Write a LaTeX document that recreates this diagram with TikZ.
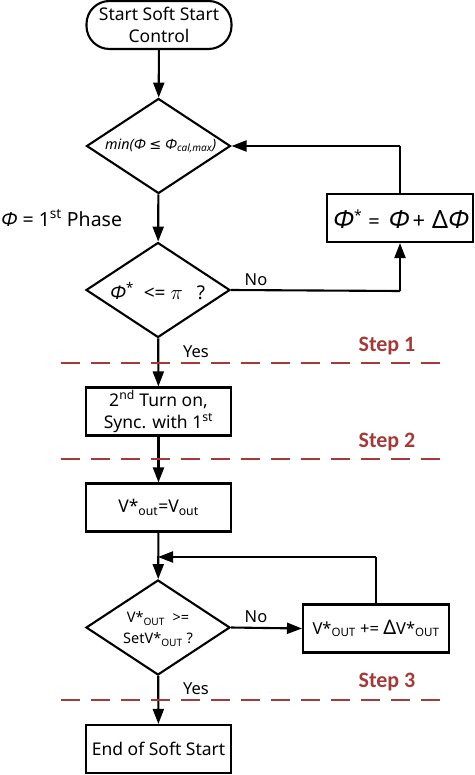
\documentclass[tikz,border=0pt]{standalone}
\usepackage{fontspec}
\setmainfont{Noto Sans}
\newfontfamily\stepfont{Carlito}
\newfontfamily\symfont{DejaVu Sans}
\usetikzlibrary{shapes.geometric,arrows.meta}
\definecolor{stepred}{RGB}{163,58,58}
\begin{document}
\begin{tikzpicture}[x=1pt,y=-1pt,
  box/.style={draw,line width=2.1pt,minimum width=145pt,minimum height=48pt,inner sep=1pt,align=center,font=\fontsize{17.5}{22}\selectfont},
  term/.style={box,rounded corners=23pt},
  dec/.style={draw,diamond,line width=2.1pt,minimum width=144pt,minimum height=95pt,inner sep=0pt,shape aspect=1.5},
  dtext/.style={inner sep=0pt,align=center},
  arr/.style={line width=2.1pt,-{Triangle[length=15pt,width=11pt]}},
  ln/.style={line width=2.1pt},
  sep/.style={stepred,line width=2.2pt,dash pattern=on 19pt off 11pt},
  steplbl/.style={text=stepred,font=\stepfont\bfseries\fontsize{22}{24}\selectfont},
  lbl/.style={font=\fontsize{16.5}{20}\selectfont}]
\useasboundingbox (0,0) rectangle (474,775);
% nodes
\node[term] (start) at (159,25) {Start Soft Start\\Control};
\node[dec] (d1) at (158.5,146) {};
\node[dtext,anchor=west,font=\fontsize{14.3}{18}\selectfont] (d1t) at (105,146) {\itshape min(Φ {\symfont\upshape ≤} Φ\textsubscript{cal,max})};
\node[draw,line width=2.1pt,minimum width=146pt,minimum height=48pt] (phi) at (400,218) {};
\node[inner sep=0pt,anchor=west,font=\fontsize{20}{24}\selectfont] (phit) at (333,219) {{\fontsize{25}{26}\selectfont\textit{Φ}}\textsuperscript{*}\hspace{6pt}=\hspace{9pt}{\fontsize{25}{26}\selectfont\textit{Φ}}\hspace{3pt}{\fontsize{22}{24}\selectfont +}\hspace{7pt}{\fontsize{25}{26}\selectfont Δ\textit{Φ}}};
\node[anchor=west,font=\fontsize{19.5}{22}\selectfont,inner sep=0pt] (phase) at (1,218) {\textit{Φ} = 1\textsuperscript{st} Phase};
\node[dec] (d2) at (158,290) {};
\node[dtext,anchor=west,font=\fontsize{19}{22}\selectfont] (d2t) at (110,291) {\textit{Φ}\textsuperscript{*}\hspace{10pt}<=\hspace{5pt}{\fontsize{22}{22}\selectfont$\pi$}\hspace{14pt}?};
\node[box] (b2) at (158.5,411.5) {2\textsuperscript{nd} Turn on,\\Sync. with 1\textsuperscript{st}};
\node[box] (b3) at (158.5,507.5) {V*\textsubscript{out}=V\textsubscript{out}};
\node[dec] (d3) at (158,627.5) {};
\node[dtext,font=\fontsize{14.5}{21}\selectfont] (d3t) at (158,629) {V*\textsubscript{OUT} \ >=\\SetV*\textsubscript{OUT} ?};
\node[box,minimum width=146pt,font=\fontsize{16.5}{20}\selectfont] (b4) at (376,628.5) {V*\textsubscript{OUT} += {\fontsize{20}{20}\selectfont Δ}V*\textsubscript{OUT}};
\node[box] (b5) at (158.5,749) {End of Soft Start};
% coordinates
\coordinate (m1) at (400,146);
\coordinate (n1) at (400,291);
\coordinate (j3) at (158,557);
\coordinate (m3) at (376,557);
% connectors
\draw[arr] (start) -- (d1);
\draw[arr] (d1) -- (d2);
\draw[ln] (phi.north) -- (m1);
\draw[arr] (m1) -- (d1.east);
\draw[ln] (d2.east) -- (n1);
\draw[arr] (n1) -- (phi.south);
\draw[arr] (d2) -- (b2);
\draw[arr] (b2) -- (b3);
\draw[arr] (b3) -- (d3);
\draw[arr] (d3.east) -- (b4.west);
\draw[ln] (b4.north) -- (m3);
\draw[arr] (m3) -- (j3);
\draw[arr] (d3) -- (b5);
% labels
\node[lbl] (no1) at (256,280) {No};
\node[lbl] (no2) at (256,617) {No};
\node[lbl] (yes1) at (196,352) {Yes};
\node[lbl] (yes2) at (196,689) {Yes};
\node[steplbl] (s1) at (387,346) {Step 1};
\node[steplbl] (s2) at (387,442) {Step 2};
\node[steplbl] (s3) at (387,682) {Step 3};
% separators
\coordinate (l1a) at (61,363); \coordinate (l1b) at (449,363);
\coordinate (l2a) at (61,459); \coordinate (l2b) at (449,459);
\coordinate (l3a) at (61,700); \coordinate (l3b) at (449,700);
\draw[sep] (l1a) -- (l1b);
\draw[sep] (l2a) -- (l2b);
\draw[sep] (l3a) -- (l3b);
\end{tikzpicture}
\end{document}
